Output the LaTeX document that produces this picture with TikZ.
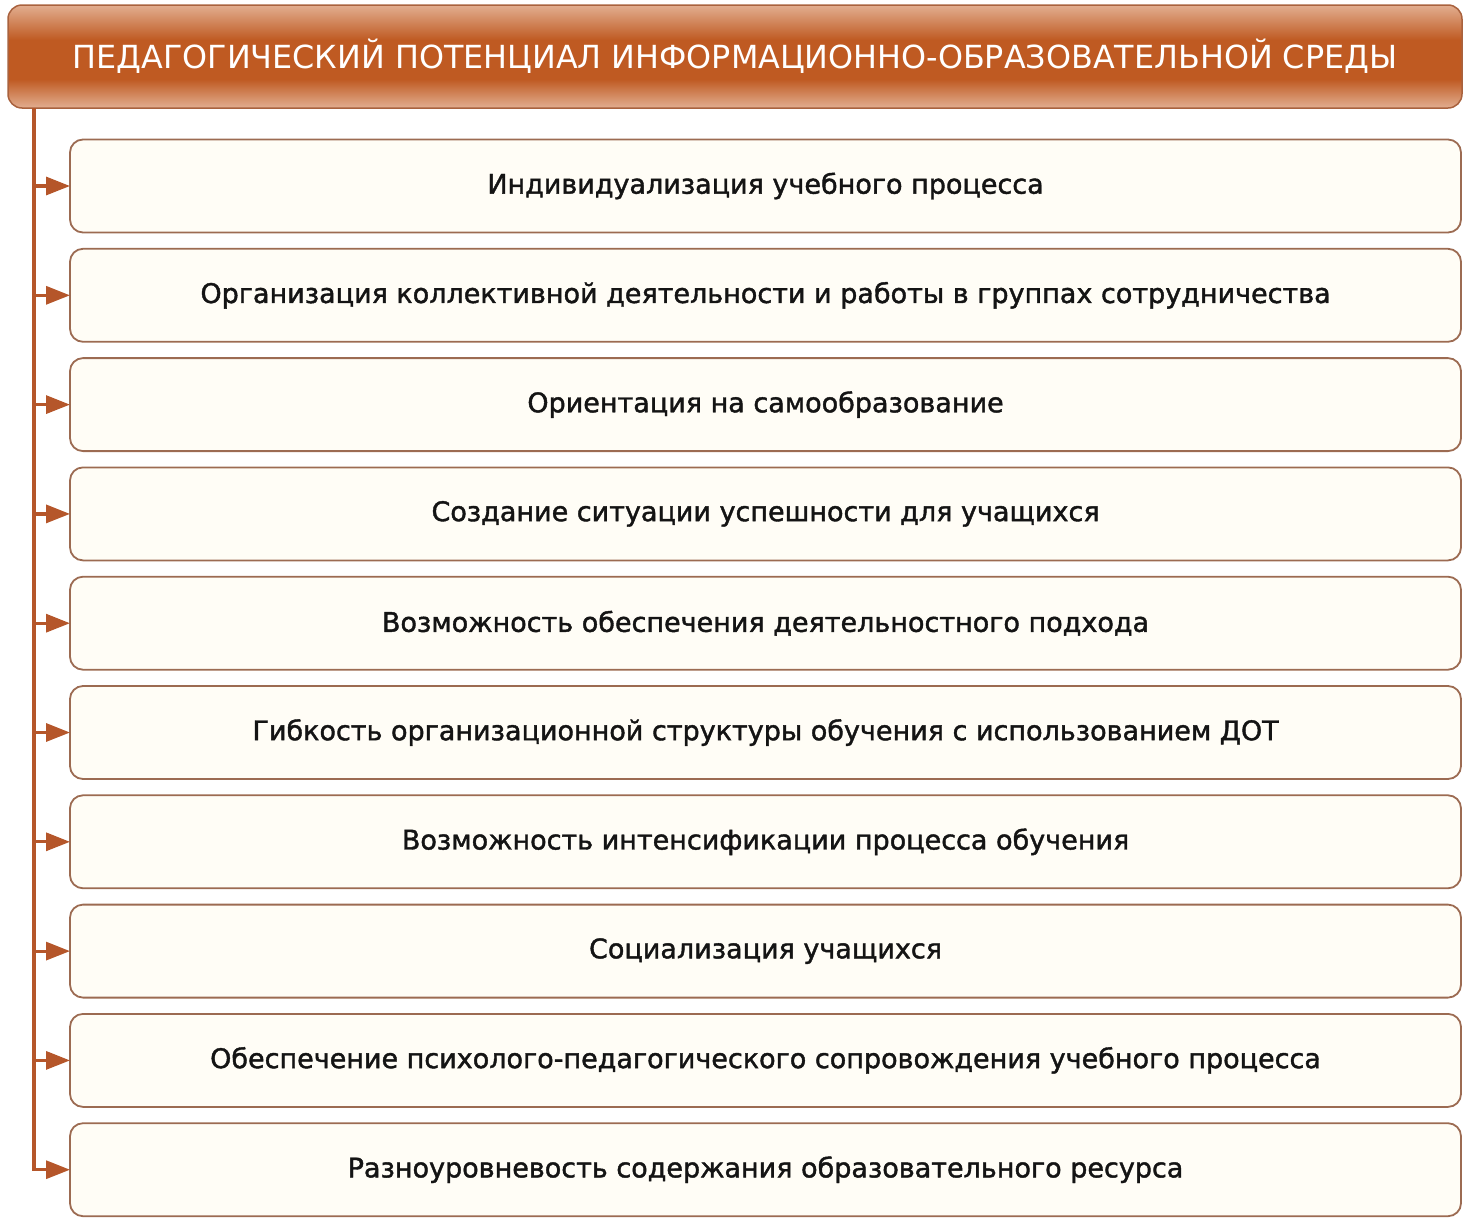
\documentclass[tikz,border=0pt]{standalone}
\usepackage{fontspec}
\setmainfont{DejaVu Sans}
\newfontfamily\itemfont[FakeBold=1.5]{DejaVu Sans}
\usetikzlibrary{positioning,arrows.meta,shapes}

\definecolor{rust}{HTML}{B5562A}
\definecolor{headmid}{HTML}{BF5A22}
\definecolor{headedge}{HTML}{E2AE90}
\definecolor{headline}{HTML}{A9623E}
\definecolor{boxline}{HTML}{9C6B52}
\definecolor{cream}{HTML}{FFFDF6}

\pgfdeclareverticalshading{headshade}{100bp}{color(0bp)=(headedge); color(25bp)=(headedge);
  color(39bp)=(headmid); color(58bp)=(headmid); color(75bp)=(headedge); color(100bp)=(headedge)}

\tikzset{
  header/.style={rectangle, rounded corners=14pt, draw=headline, line width=1.5pt,
    shading=headshade, minimum width=1454pt, minimum height=103pt, outer sep=0pt,
    text=white, font={\fontsize{31.8}{36}\selectfont}},
  item/.style={rectangle, rounded corners=13pt, draw=boxline, line width=1.8pt,
    fill=cream, minimum width=1391pt, minimum height=93pt, outer sep=0pt,
    text=black!92, font={\itemfont\fontsize{27}{30}\selectfont}},
  feed/.style={rust, line width=3.2pt,
    arrows={-{Triangle[width=18pt,length=24pt]}}}
}

\begin{document}
\begin{tikzpicture}[x=1pt,y=1pt]
  \useasboundingbox (0,0) rectangle (1469,-1229);

  % title
  \node[header] (head) at (735,-56.5) {ПЕДАГОГИЧЕСКИЙ ПОТЕНЦИАЛ ИНФОРМАЦИОННО-ОБРАЗОВАТЕЛЬНОЙ СРЕДЫ};

  % items
  \node[item] (i1) at (765.5,-186) {Индивидуализация учебного процесса};
  \node[item, below=16.3pt of i1] (i2) {Организация коллективной деятельности и работы в группах сотрудничества};
  \node[item, below=16.3pt of i2] (i3) {Ориентация на самообразование};
  \node[item, below=16.3pt of i3] (i4) {Создание ситуации успешности для учащихся};
  \node[item, below=16.3pt of i4] (i5) {Возможность обеспечения деятельностного подхода};
  \node[item, below=16.3pt of i5] (i6) {Гибкость организационной структуры обучения с использованием ДОТ};
  \node[item, below=16.3pt of i6] (i7) {Возможность интенсификации процесса обучения};
  \node[item, below=16.3pt of i7] (i8) {Социализация учащихся};
  \node[item, below=16.3pt of i8] (i9) {Обеспечение психолого-педагогического сопровождения учебного процесса};
  \node[item, below=16.3pt of i9] (i10) {Разноуровневость содержания образовательного ресурса};

  % spine and arrows
  \coordinate (spine) at ([xshift=26pt]head.south west);
  \draw[feed] (spine) |- (i10.west);
  \foreach \i in {1,...,9}
    \draw[feed] (spine |- i\i.west) -- (i\i.west);
\end{tikzpicture}
\end{document}
